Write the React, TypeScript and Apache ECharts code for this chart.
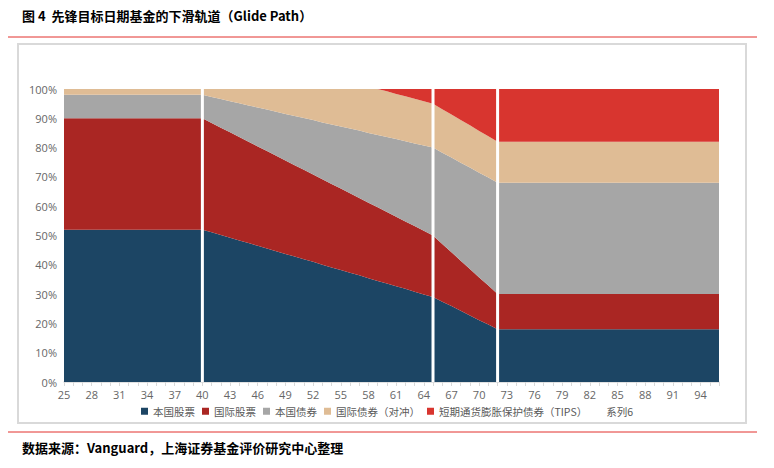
import React, { useEffect, useRef } from "react";
import * as echarts from "echarts";

const ages: string[] = [
  "25","26","27","28","29","30","31","32","33","34","35","36","37","38","39","40",
  "41","42","43","44","45","46","47","48","49","50","51","52","53","54","55","56",
  "57","58","59","60","61","62","63","64","65","66","67","68","69","70","71","72",
  "73","74","75","76","77","78","79","80","81","82","83","84","85","86","87","88",
  "89","90","91","92","93","94","95","96",
];

// 本国股票
const usStocks: number[] = [
  52,52,52,52,52,52,52,52,52,52,52,52,52,52,52,52,
  51.1,50.2,49.2,48.3,47.4,46.5,45.6,44.6,43.7,42.8,41.9,41.0,40.0,39.1,38.2,37.3,
  36.4,35.4,34.5,33.6,32.7,31.8,30.8,29.9,29,27.4,25.9,24.3,22.7,21.1,19.6,18,
  18,18,18,18,18,18,18,18,18,18,18,18,18,18,18,18,
  18,18,18,18,18,18,18,18,
];

// 国际股票
const intlStocks: number[] = [
  38,38,38,38,38,38,38,38,38,38,38,38,38,38,38,38,
  37.3,36.6,36.0,35.3,34.6,33.9,33.2,32.6,31.9,31.2,30.5,29.8,29.2,28.5,27.8,27.1,
  26.4,25.8,25.1,24.4,23.7,23.0,22.4,21.7,21,19.7,18.4,17.1,15.9,14.6,13.3,12,
  12,12,12,12,12,12,12,12,12,12,12,12,12,12,12,12,
  12,12,12,12,12,12,12,12,
];

// 本国债券
const usBonds: number[] = [
  8,8,8,8,8,8,8,8,8,8,8,8,8,8,8,8,
  8.9,9.8,10.6,11.5,12.4,13.3,14.2,15.0,15.9,16.8,17.7,18.6,19.4,20.3,21.2,22.1,
  23.0,23.8,24.7,25.6,26.5,27.4,28.2,29.1,30,31.1,32.3,33.4,34.6,35.7,36.9,38,
  38,38,38,38,38,38,38,38,38,38,38,38,38,38,38,38,
  38,38,38,38,38,38,38,38,
];

// 国际债券（对冲）
const intlBonds: number[] = [
  2,2,2,2,2,2,2,2,2,2,2,2,2,2,2,2,
  2.7,3.4,4.2,4.9,5.6,6.3,7.0,7.8,8.5,9.2,9.9,10.6,11.4,12.1,12.8,13.5,
  14.2,15.0,15.7,15.6,15.4,15.3,15.3,15.1,15,14.9,14.7,14.6,14.4,14.3,14.1,14,
  14,14,14,14,14,14,14,14,14,14,14,14,14,14,14,14,
  14,14,14,14,14,14,14,14,
];

// 短期通货膨胀保护债券（TIPS）
const tips: number[] = [
  0,0,0,0,0,0,0,0,0,0,0,0,0,0,0,0,
  0,0,0,0,0,0,0,0,0,0,0,0,0,0,0,0,
  0,0,0,0.8,1.7,2.5,3.3,4.2,5,6.9,8.7,10.6,12.4,14.3,16.1,18,
  18,18,18,18,18,18,18,18,18,18,18,18,18,18,18,18,
  18,18,18,18,18,18,18,18,
];

// 系列6 (white dividers)
const dividerAges: string[] = ["40", "65", "72"];
const dividerValue = 100;

const seriesNames: string[] = [
  "本国股票",
  "国际股票",
  "本国债券",
  "国际债券（对冲）",
  "短期通货膨胀保护债券（TIPS）",
  "系列6",
];
const colors: string[] = ["#1c4564", "#aa2623", "#a6a6a6", "#dfbc95", "#d8352f", "#ffffff"];

const yTicks: number[] = [0, 10, 20, 30, 40, 50, 60, 70, 80, 90, 100];

const titleText = "图 4  先锋目标日期基金的下滑轨道（Glide Path）";
const sourceText = "数据来源：Vanguard，上海证券基金评价研究中心整理";

export default function App() {
  const ref = useRef<HTMLDivElement>(null);

  useEffect(() => {
    document.body.style.margin = "0";
    if (!ref.current) return;
    const chart = echarts.init(ref.current, undefined, { renderer: "svg" });
    const areaData = [usStocks, intlStocks, usBonds, intlBonds, tips];
    const dividerData = ages.map((a) => (dividerAges.includes(a) ? dividerValue : "-"));

    const series: any[] = areaData.map((d, i) => ({
      name: seriesNames[i],
      type: "line",
      stack: "total",
      data: d,
      showSymbol: false,
      symbol: "none",
      lineStyle: { width: 0 },
      areaStyle: { color: colors[i], opacity: 1 },
      itemStyle: { color: colors[i] },
      z: 2,
    }));
    series.push({
      name: seriesNames[5],
      type: "bar",
      data: dividerData,
      barWidth: 3,
      itemStyle: { color: colors[5] },
      z: 3,
    });

    chart.setOption({
      animation: false,
      grid: { left: 64, right: 55, top: 89, bottom: 86 },
      legend: {
        data: seriesNames.map((n, i) => ({
          name: n,
          icon: "rect",
          itemStyle: { color: colors[i] },
        })),
        top: 401,
        left: "center",
        itemWidth: 7,
        itemHeight: 7,
        itemGap: 7,
        textStyle: {
          color: "#595959",
          fontSize: 10.5,
          fontFamily: "Noto Sans CJK SC",
        },
      },
      xAxis: {
        type: "category",
        data: ages,
        boundaryGap: false,
        axisLine: { lineStyle: { color: "#d9d9d9", width: 1.5 } },
        axisTick: { interval: 0, length: 4, lineStyle: { color: "#d9d9d9" } },
        axisLabel: {
          interval: 2,
          color: "#666666",
          fontSize: 11,
          fontFamily: "Open Sans",
          margin: 7,
        },
        splitLine: { show: false },
      },
      yAxis: {
        type: "value",
        min: yTicks[0],
        max: yTicks[yTicks.length - 1],
        interval: 10,
        axisLine: { show: false },
        axisTick: { show: false },
        splitLine: { show: false },
        axisLabel: {
          formatter: "{value}%",
          color: "#666666",
          fontSize: 11,
          fontFamily: "Open Sans",
          margin: 7,
        },
      },
      graphic: [
        {
          type: "text",
          left: 22,
          top: 9,
          style: {
            text: titleText,
            font: 'bold 13px "Noto Sans CJK SC"',
            fill: "#000000",
          },
        },
        {
          type: "line",
          shape: { x1: 8, y1: 37, x2: 757, y2: 37 },
          style: { stroke: "#e2312d", lineWidth: 1 },
        },
        {
          type: "rect",
          shape: { x: 18, y: 44, width: 728, height: 379 },
          style: { fill: "none", stroke: "#d9d9d9", lineWidth: 2 },
          z: -1,
        },
        {
          type: "line",
          shape: { x1: 8, y1: 432, x2: 757, y2: 432 },
          style: { stroke: "#e2312d", lineWidth: 1 },
        },
        {
          type: "text",
          left: 22,
          top: 441,
          style: {
            text: sourceText,
            font: 'bold 13px "Noto Sans CJK SC"',
            fill: "#000000",
          },
        },
      ],
      series,
    });
    return () => chart.dispose();
  }, []);

  return (
    <div
      ref={ref}
      style={{ position: "absolute", left: 0, top: 0, width: 774, height: 468, background: "#fff" }}
    />
  );
}
